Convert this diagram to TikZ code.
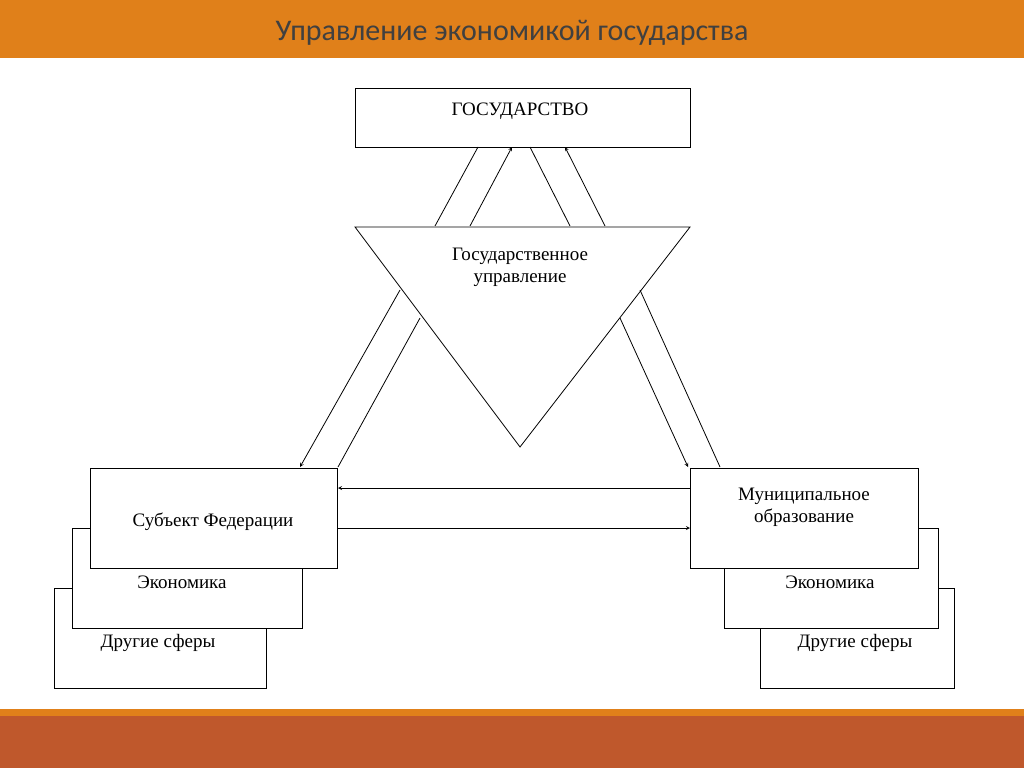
\documentclass[tikz,border=0pt]{standalone}
\usepackage{fontspec}
\setmainfont{Liberation Serif}
\newfontfamily\titlefont{Carlito}
\definecolor{hdr}{HTML}{E0801A}
\definecolor{rust}{HTML}{BF582C}
\definecolor{ttl}{HTML}{404040}
\begin{document}
\begin{tikzpicture}[x=1pt,y=-1pt,
  box/.style={draw,fill=white,line width=0.8pt},
  ln/.style={line width=0.8pt},
  ar/.style={line width=0.8pt,-stealth},
  txt/.style={font=\fontsize{19}{22}\selectfont,align=center}]
\useasboundingbox (0,0) rectangle (1024,768);
\fill[hdr] (0,0) rectangle (1024,58);
\node[font=\titlefont\fontsize{30}{34}\selectfont,text=ttl] (title) at (512,33) {Управление экономикой государства};
\fill[hdr] (0,709) rectangle (1024,716);
\fill[rust] (0,716) rectangle (1024,768);
% top box
\draw[box] (355,88) rectangle (690,147);
\node[txt] (gos) at (520,111) {ГОСУДАРСТВО};
% triangle
\draw[box] (355,227) -- (690,227) -- (520,447) -- cycle;
\node[txt] (gu) at (520,267) {Государственное\\управление};
% left stack
\draw[box] (54,588) rectangle (266,688);
\node[txt] (l3) at (158,643) {Другие сферы};
\draw[box] (72,528) rectangle (302,628);
\node[txt] (l2) at (182,582) {Экономика};
\draw[box] (90,468) rectangle (337,568);
\node[txt] (l1) at (213,522) {Субъект Федерации};
% right stack
\draw[box] (760,588) rectangle (954,688);
\node[txt] (r3) at (855,643) {Другие сферы};
\draw[box] (724,528) rectangle (938,628);
\node[txt] (r2) at (830,582) {Экономика};
\draw[box] (690,468) rectangle (918,568);
\node[txt] (r1) at (804,507) {Муниципальное\\образование};
% connectors
\draw[ln] (435,226) -- (478,147);
\draw[ar] (470,226) -- (512,147);
\draw[ln] (530,147) -- (570,226);
\draw[ar] (605,226) -- (565,147);
\draw[ar] (400,290) -- (300,467);
\draw[ln] (420,318) -- (338,467);
\draw[ar] (620,318) -- (688,467);
\draw[ln] (640,290) -- (720,467);
\draw[ar] (690,488) -- (338,488);
\draw[ar] (338,528) -- (690,528);
\end{tikzpicture}
\end{document}
